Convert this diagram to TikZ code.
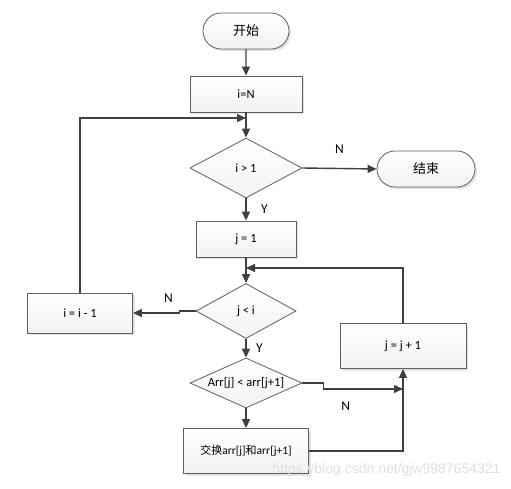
\documentclass[tikz,border=0pt]{standalone}
\usepackage{fontspec}
\setmainfont{Carlito}
\newfontfamily\cjk{Noto Sans CJK SC}
\newfontfamily\markfont{Liberation Sans}
\usepackage{tikz}
\usetikzlibrary{
  arrows.meta, shapes.geometric, shapes.misc,
  positioning, shadows
}
\usepackage{xcolor}
\definecolor{linegray}{HTML}{404040}
\definecolor{edgegray}{HTML}{5E5E5E}
\tikzset{
  terminal/.style={
    rounded rectangle, draw=edgegray, thick,
    top color=white, bottom color=gray!10,
    drop shadow={shadow xshift=2pt, shadow yshift=-2pt, fill=gray!45},
    minimum height=36pt, inner sep=0pt,
    align=center, font=\cjk\fontsize{13}{15}\selectfont
  },
  process/.style={
    rectangle, draw=edgegray, thick,
    top color=white, bottom color=gray!10,
    drop shadow={shadow xshift=2pt, shadow yshift=-2pt, fill=gray!45},
    inner sep=0pt, align=center, font=\fontsize{12.5}{14}\selectfont
  },
  decision/.style={
    diamond, aspect=2, draw=edgegray, thick,
    top color=white, bottom color=gray!10,
    inner sep=0pt, align=center, font=\fontsize{12.5}{14}\selectfont
  },
  arrow/.style={-{Triangle[length=9pt,width=8pt]}, line width=1.4pt, draw=linegray},
  yn/.style={font=\fontsize{13.5}{15}\selectfont, text=black}
}

\begin{document}
\begin{tikzpicture}[x=1pt, y=-1pt]

\useasboundingbox (0,0) rectangle (511,489);
\fill[white] (0,0) rectangle (511,489);

% Outer loop
\node[terminal, minimum width=86pt] (start) at (246,31) {开始};
\node[process, minimum width=112pt, minimum height=36pt] (initN) at (246,94) {i=N};
\node[decision, minimum width=112pt, minimum height=60pt] (outer) at (246,168) {i > 1};
\node[terminal, minimum width=98pt] (finish) at (426,169) {结束};
\node[process, minimum width=100pt, minimum height=36pt] (jinit) at (246,239) {j = 1};

% Inner loop
\node[decision, minimum width=100pt, minimum height=55pt] (inner) at (246,311) {j < i};
\node[process, minimum width=105pt, minimum height=40pt] (idec) at (80,313) {i = i - 1};
\node[decision, minimum width=112pt, minimum height=50pt] (compare) at (246,383) {Arr[j] < arr[j+1]};
\node[process, minimum width=125pt, minimum height=45pt, font=\fontsize{11.5}{13}\selectfont]
  (swap) at (246,451) {{\cjk\fontsize{11}{13}\selectfont 交换}arr[j]{\cjk\fontsize{11}{13}\selectfont 和}arr[j+1]};
\node[process, minimum width=126pt, minimum height=45pt] (jstep) at (403,346) {j = j + 1};

% Join points
\coordinate (loopin) at (246,118);
\coordinate (innerin) at (246,268);
\coordinate (merge) at (403,389);

% Arrows
\draw[arrow] (start) -- (initN);
\draw[arrow] (initN) -- (outer);
\draw[arrow] (outer.east) -- node[yn, above=11pt]{N} (finish.west);
\draw[arrow] (outer.south) -- node[yn, right=11pt]{Y} (jinit.north);
\draw[arrow] (jinit.south) -- (inner.north);
\draw[arrow] (inner.west) -- ++(-16,0) |- node[yn, pos=0.62, above=6pt]{N} (idec.east);
\draw[arrow] (idec.north) |- (loopin);
\draw[arrow] (inner.south) -- node[yn, right=6pt]{Y} (compare.north);
\draw[arrow] (compare.south) -- (swap.north);
\draw[arrow] (compare.east) -- ++(21,0) |- node[yn, pos=0.64, below=9pt]{N} (merge);
\draw[arrow] (swap.east) -| (jstep.south);
\draw[arrow] (jstep.north) |- (innerin);

% Watermark
\node[font=\markfont\fontsize{14}{16}\selectfont, text=gray!25, anchor=east] (mark)
  at (504,470) {https://blog.csdn.net/gjw9987654321};

\end{tikzpicture}
\end{document}
